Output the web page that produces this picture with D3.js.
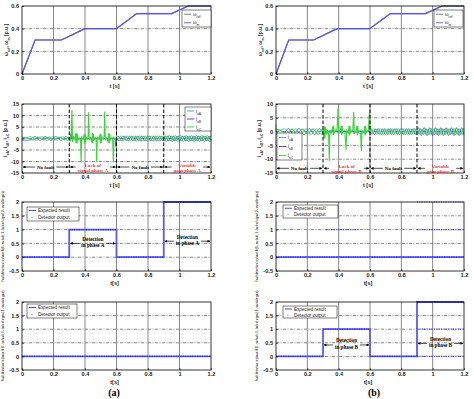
<!DOCTYPE html>
<html><head><meta charset="utf-8">
<script src="https://cdn.jsdelivr.net/npm/d3@7"></script>
<style>body{margin:0;background:#fff}svg{display:block}</style>
</head><body>
<script>
// ---------------- DATA ----------------
const xTicks = [0, 0.2, 0.4, 0.6, 0.8, 1, 1.2];
const xTickLabels = ["0", "0.2", "0.4", "0.6", "0.8", "1", "1.2"];
const speedTicks = [0, 0.2, 0.4, 0.6];
const currTicksA = [-15, -10, -5, 0, 5, 10, 15];
const currTicksB = [-15, -10, -5, 0, 5, 10];
const detTicks = [-0.5, 0, 0.5, 1, 1.5, 2];
const detTickLabels = ["-0.5", "0", "0.5", "1", "1.5", "2"];

// speed profiles (reference and measured overlap)
const speedT_a = [0, 0.083, 0.25, 0.4, 0.6, 0.728, 0.95, 1.055, 1.2];
const speedW_a = [0, 0.3, 0.3, 0.4, 0.4, 0.533, 0.533, 0.6, 0.6];
const speedT_b = [0, 0.081, 0.24, 0.39, 0.598, 0.73, 0.953, 1.06, 1.2];
const speedW_b = [0, 0.3, 0.3, 0.4, 0.4, 0.533, 0.533, 0.6, 0.6];

// phase current envelope per interval [t0, t1, amplitude]  (null = explicit samples)
const ampA_a = [[0, 0.3, 0.8], [0.3, 0.6, 0], [0.6, 0.9, 1.0], [0.9, 1.2, 1.35]];
const ampB_a = [[0, 0.3, 0.8], [0.3, 0.6, null], [0.6, 0.9, 1.0], [0.9, 1.2, 1.0]];
const ampC_a = [[0, 0.3, 0.6], [0.3, 0.6, null], [0.6, 0.9, 1.0], [0.9, 1.2, 1.0]];
const ampA_b = [[0, 0.3, 1.0], [0.3, 0.6, null], [0.6, 0.9, 1.0], [0.9, 1.2, 1.0]];
const ampB_b = [[0, 0.3, 1.1], [0.3, 0.6, 0], [0.6, 0.9, 1.0], [0.9, 1.2, 1.4]];
const ampC_b = [[0, 0.3, 0.9], [0.3, 0.6, null], [0.6, 0.9, 1.0], [0.9, 1.2, 1.0]];

// explicit samples during the fault intervals
const faultB_a = [[0.3, 0], [0.308, 0.3], [0.312, 2.2], [0.316, -0.4], [0.33, 0.2], [0.4, -0.2], [0.45, 0.3], [0.5, -0.2], [0.58, 0.2], [0.592, -0.5], [0.596, -3.5], [0.6, 0]];
const faultC_a = [[0.300, 0.5], [0.306, -1.2], [0.312, 1.5], [0.317, 12.4], [0.321, -1.5], [0.328, 0.8], [0.336, -0.5], [0.341, 2.2], [0.344, -2.0], [0.347, 2.4], [0.350, -2.2], [0.353, 1.8], [0.357, -0.6], [0.366, 0.2], [0.372, -0.8], [0.375, -10.5], [0.379, 0.6], [0.388, -0.4], [0.395, 1.8], [0.398, -2.2], [0.401, 2.2], [0.404, -1.8], [0.408, 0.4], [0.416, -0.2], [0.420, 1.2], [0.423, 11.4], [0.427, -0.8], [0.436, 0.4], [0.444, -1.8], [0.447, 2.4], [0.450, -2.2], [0.453, 2.0], [0.457, -0.6], [0.466, 0.2], [0.471, -0.9], [0.474, -10.2], [0.478, 0.6], [0.488, -0.4], [0.495, 1.8], [0.498, -2.2], [0.501, 2.2], [0.504, -1.8], [0.508, 0.4], [0.517, -0.2], [0.522, 1.2], [0.525, 11.7], [0.529, -0.8], [0.538, 0.4], [0.548, -1.8], [0.551, 2.4], [0.554, -2.2], [0.557, 2.0], [0.561, -0.6], [0.570, 0.2], [0.576, -0.9], [0.580, -10.5], [0.584, 0.6], [0.592, -0.3], [0.600, 0.3]];
const faultA_b = [[0.3, 0.4], [0.31, -0.6], [0.32, 0.8], [0.335, -1.2], [0.34, 0.3], [0.39, 0.6], [0.396, -0.8], [0.44, 0.5], [0.447, -0.6], [0.49, 0.5], [0.496, -0.7], [0.54, 0.5], [0.545, -0.6], [0.59, 0.4], [0.6, 0]];
const faultC_b = [[0.300, 0.3], [0.304, -2.4], [0.308, 2.0], [0.312, -2.6], [0.316, 1.6], [0.322, -1.0], [0.330, 0.5], [0.336, -1.2], [0.340, -10.6], [0.344, 0.5], [0.352, -0.6], [0.362, 1.8], [0.365, -1.2], [0.368, 2.2], [0.371, -0.6], [0.380, 0.3], [0.390, 0.8], [0.396, 8.4], [0.400, -0.4], [0.410, 0.6], [0.416, 2.0], [0.419, -1.4], [0.422, 2.0], [0.426, -0.4], [0.440, -0.6], [0.447, -6.7], [0.451, 0.5], [0.462, -0.4], [0.466, 2.0], [0.469, -1.4], [0.472, 2.0], [0.476, -0.4], [0.490, 0.6], [0.496, 7.2], [0.500, -0.4], [0.512, 0.4], [0.516, 2.0], [0.519, -1.4], [0.522, 2.0], [0.526, -0.4], [0.540, -0.6], [0.545, -7.0], [0.549, 0.5], [0.562, -0.4], [0.566, 2.0], [0.569, -1.4], [0.572, 2.0], [0.576, -0.4], [0.590, 0.6], [0.596, 6.9], [0.600, 0.0]];

// detection results: [t0, t1, value]
const expRow3_a = [[0, 0.3, 0], [0.3, 0.6, 1], [0.6, 0.9, 0], [0.9, 1.2, 2]];
const detRow3_a = [[0, 0.3, 0], [0.3, 0.6, 1], [0.6, 0.9, 0], [0.9, 1.2, 2]];
const expRow3_b = [[0, 1.2, 0]];
const detRow3_b = [[0, 1.2, 0], [0.32, 0.53, 1], [0.9, 1.2, 1], [0.9, 1.2, 2]];
const expRow4_a = [[0, 1.2, 0]];
const detRow4_a = [[0, 1.2, 0]];
const expRow4_b = [[0, 0.3, 0], [0.3, 0.6, 1], [0.6, 0.9, 0], [0.9, 1.2, 2]];
const detRow4_b = [[0, 0.3, 0], [0.3, 0.6, 1], [0.6, 0.9, 0], [0.9, 1.2, 2], [0.9, 1.2, 1], [0.9, 1.2, 0]];

const faultLines = [0.3, 0.6, 0.9];

// ---------------- DRAWING ----------------
const W = 474, H = 399;
const svg = d3.select("body").append("svg").attr("width", W).attr("height", H);
svg.append("rect").attr("width", W).attr("height", H).attr("fill", "#fff");

const defs = svg.append("defs");
function marker(id, color) {
  defs.append("marker").attr("id", id).attr("viewBox", "0 0 10 10").attr("refX", 9).attr("refY", 5)
    .attr("markerWidth", 4).attr("markerHeight", 4).attr("orient", "auto-start-reverse")
    .append("path").attr("d", "M0,0L10,5L0,10z").attr("fill", color);
}
marker("arrK", "#000");

const cols = [{x0: 22, x1: 211}, {x0: 276, x1: 464}];
const rows = [{y0: 6, y1: 74}, {y0: 104, y1: 173}, {y0: 202, y1: 271}, {y0: 302, y1: 370}];
const tickFont = "Liberation Sans, Arial, sans-serif";
const serif = "Liberation Serif, Times New Roman, serif";
const colA = "#3f9be0", colB = "#4a35d8", colC = "#3fd23f", lineBlue = "#5555ee";

function panel(ci, ri, yDom, yTicks, yLabels, xLab) {
  const c = cols[ci], r = rows[ri];
  const x = d3.scaleLinear([0, 1.2], [c.x0, c.x1]);
  const y = d3.scaleLinear(yDom, [r.y1, r.y0]);
  const g = svg.append("g");
  g.append("rect").attr("x", c.x0).attr("y", r.y0).attr("width", c.x1 - c.x0).attr("height", r.y1 - r.y0).attr("fill", "#fff");
  // grid
  g.append("g").selectAll("line").data(xTicks.slice(1, -1)).join("line")
    .attr("x1", d => x(d)).attr("x2", d => x(d)).attr("y1", r.y0).attr("y2", r.y1)
    .attr("stroke", "#6a6a6a").attr("stroke-width", 0.8);
  g.append("g").selectAll("line").data(yTicks.filter(v => v > yDom[0] && v < yDom[1])).join("line")
    .attr("x1", c.x0).attr("x2", c.x1).attr("y1", d => y(d)).attr("y2", d => y(d))
    .attr("stroke", "#6a6a6a").attr("stroke-width", 0.8).attr("stroke-dasharray", "3,1.5,1,1.5");
  const plot = g.append("g");
  // axes
  const ax = g.append("g").attr("transform", `translate(0,${r.y1})`)
    .call(d3.axisBottom(x).tickValues(xTicks).tickFormat((d, i) => xTickLabels[i]).tickSizeInner(-2).tickSizeOuter(0).tickPadding(2));
  const ay = g.append("g").attr("transform", `translate(${c.x0},0)`)
    .call(d3.axisLeft(y).tickValues(yTicks).tickFormat((d, i) => yLabels[i]).tickSizeInner(-2).tickSizeOuter(0).tickPadding(3));
  [ax, ay].forEach(a => {
    a.select(".domain").remove();
    a.selectAll("text").attr("font-family", tickFont).attr("font-size", 5.6).attr("font-weight", "bold").attr("fill", "#222");
    a.selectAll("line").attr("stroke", "#000").attr("stroke-width", 0.6);
  });
  g.append("text").attr("x", (c.x0 + c.x1) / 2 - 2).attr("y", r.y1 + 13.5).attr("text-anchor", "middle")
    .attr("font-family", tickFont).attr("font-size", 5.4).attr("font-weight", "bold").attr("fill", "#222").text(xLab);
  g.append("rect").attr("x", c.x0).attr("y", r.y0).attr("width", c.x1 - c.x0).attr("height", r.y1 - r.y0)
    .attr("fill", "none").attr("stroke", "#000").attr("stroke-width", 0.8);
  return {x, y, g, plot, c, r};
}

function yLabel(p, xPos, parts, size) {
  const t = svg.append("text").attr("transform", `translate(${xPos},${(p.r.y0 + p.r.y1) / 2}) rotate(-90)`)
    .attr("text-anchor", "middle").attr("font-family", tickFont).attr("font-size", size).attr("font-weight", "bold").attr("fill", "#333");
  parts.forEach(([s, sub]) => {
    const ts = t.append("tspan").text(s);
    if (sub) ts.attr("baseline-shift", "sub").attr("font-size", size * 0.7);
  });
}

function legend(p, bx, by, bw, bh, items, size) {
  const g = p.g.append("g");
  g.append("rect").attr("x", bx).attr("y", by).attr("width", bw).attr("height", bh).attr("fill", "#fff").attr("stroke", "#000").attr("stroke-width", 0.5);
  const step = bh / items.length;
  items.forEach((it, i) => {
    const yy = by + step * (i + 0.5);
    if (it.dot) {
      g.append("circle").attr("cx", bx + 5).attr("cy", yy).attr("r", 0.5).attr("fill", it.color);
    } else {
      g.append("line").attr("x1", bx + 2).attr("x2", bx + 9).attr("y1", yy).attr("y2", yy).attr("stroke", it.color).attr("stroke-width", 0.9);
    }
    const t = g.append("text").attr("x", bx + 11).attr("y", yy + size * 0.35).attr("font-family", tickFont).attr("font-size", size).attr("fill", "#222");
    it.parts.forEach(([s, sub]) => {
      const ts = t.append("tspan").text(s);
      if (sub) ts.attr("baseline-shift", "sub").attr("font-size", size * 0.75);
    });
  });
}

// ---- Row 1: speed ----
[[0, speedT_a, speedW_a], [1, speedT_b, speedW_b]].forEach(([ci, T, Wv]) => {
  const p = panel(ci, 0, [0, 0.6], speedTicks, ["0", "0.2", "0.4", "0.6"], "t [s]");
  const pts = T.map((t, i) => [t, Wv[i]]);
  const line = d3.line().x(d => p.x(d[0])).y(d => p.y(d[1]));
  p.plot.append("path").attr("d", line(pts)).attr("fill", "none").attr("stroke", "#777").attr("stroke-width", 1.2);
  p.plot.append("path").attr("d", line(pts)).attr("fill", "none").attr("stroke", lineBlue).attr("stroke-width", 1.1);
  const lx = ci === 0 ? 182 : 434;
  legend(p, lx, 10, 29, 17, [{color: "#777", parts: [["ω"], ["ref", 1]]}, {color: lineBlue, parts: [["ω"], ["m", 1]]}], 4.5);
  yLabel(p, ci === 0 ? 8 : 262, [["ω"], ["ref", 1], [", ω"], ["m", 1], ["  [p.u.]"]], 5);
});

// ---- Row 2: currents ----
function buildCurrent(T, Wv, amps, fault, shift, start) {
  const wOf = d3.scaleLinear(T, Wv);
  const dt = 0.0005;
  const out = [];
  if (start) out.push(start);
  let ph = 0;
  for (let t = 0; t <= 1.2 + 1e-9; t += dt) {
    const seg = amps.find(s => t >= s[0] && t < s[1] + 1e-9);
    if (seg[2] === null) {
      if (out.length && out[out.length - 1].fault !== true) {
        fault.forEach(d => { const q = [d[0], d[1]]; q.fault = true; out.push(q); });
      }
      ph += 2 * Math.PI * 50 * wOf(t) * dt;
      continue;
    }
    out.push([t, seg[2] * Math.sin(ph + shift)]);
    ph += 2 * Math.PI * 50 * wOf(t) * dt;
  }
  return out;
}

const annoA = [[0, 0.3, ["No fault"], "#000"], [0.3, 0.6, ["Lack of", "signal phase A"], "#e8343c"], [0.6, 0.9, ["No fault"], "#000"], [0.9, 1.2, ["Variable", "gain phase A"], "#e8343c"]];
const annoB = [[0, 0.3, ["No fault"], "#000"], [0.3, 0.6, ["Lack of", "signal phase B"], "#e8343c"], [0.6, 0.9, ["No fault"], "#000"], [0.9, 1.2, ["Variable", "gain phase B"], "#e8343c"]];

function annotate(p, t0, t1, yv, lines, color, size, lineOffset) {
  const g = p.g.append("g");
  const cx = (p.x(t0) + p.x(t1)) / 2, cy = p.y(yv);
  const texts = lines.map((s, i) => g.append("text").attr("x", cx).attr("y", cy + lineOffset[i]).attr("text-anchor", "middle")
    .attr("font-family", serif).attr("font-size", size).attr("font-weight", "bold").attr("fill", color).text(s));
  const tw = d3.max(texts.map(t => t.node().getComputedTextLength()));
  const half = Math.min(tw / 2 + 2, (p.x(t1) - p.x(t0)) / 2 - 4);
  g.append("line").attr("x1", cx - half).attr("x2", p.x(t0) + 1).attr("y1", cy).attr("y2", cy)
    .attr("stroke", "#000").attr("stroke-width", 0.7).attr("marker-end", "url(#arrK)");
  g.append("line").attr("x1", cx + half).attr("x2", p.x(t1) - 1).attr("y1", cy).attr("y2", cy)
    .attr("stroke", "#000").attr("stroke-width", 0.7).attr("marker-end", "url(#arrK)");
  texts.forEach(t => t.raise());
}

[[0, speedT_a, speedW_a, [ampA_a, ampB_a, ampC_a], [null, faultB_a, faultC_a], [-15, 15], currTicksA, annoA, -12.4],
 [1, speedT_b, speedW_b, [ampA_b, ampB_b, ampC_b], [faultA_b, null, faultC_b], [-15, 10], currTicksB, annoB, -13.3]]
.forEach(([ci, T, Wv, amps, faults, dom, ticks, anno, ay]) => {
  const p = panel(ci, 1, dom, ticks, ticks.map(String), "t [s]");
  const line = d3.line().x(d => p.x(d[0])).y(d => p.y(d[1]));
  const shifts = [0, -2 * Math.PI / 3, 2 * Math.PI / 3];
  const colors = [colA, colB, colC];
  [0, 1, 2].forEach(k => {
    const start = (ci === 1 && k === 0) ? [0, 2.6] : null;
    const data = buildCurrent(T, Wv, amps[k], faults[k] || [], shifts[k], start);
    p.plot.append("path").attr("d", line(data)).attr("fill", "none").attr("stroke", colors[k]).attr("stroke-width", k === 2 ? 1.1 : 0.8);
  });
  p.plot.selectAll(".fl").data(faultLines).join("line")
    .attr("x1", d => p.x(d)).attr("x2", d => p.x(d)).attr("y1", p.r.y0).attr("y2", p.r.y1)
    .attr("stroke", "#000").attr("stroke-width", 1).attr("stroke-dasharray", "3.5,2");
  anno.forEach(([t0, t1, lines, color]) => annotate(p, t0, t1, ay, lines, color, 5, lines.length === 1 ? [1.7] : [0, 5]));
  const items = [{color: colA, parts: [["i"], ["sA", 1]]}, {color: colB, parts: [["i"], ["sB", 1]]}, {color: colC, parts: [["i"], ["sC", 1]]}];
  if (ci === 0) legend(p, 185, 107, 26, 24, items, 4.5);
  else legend(p, 277, 133, 25, 27, items, 4.5);
  yLabel(p, ci === 0 ? 7 : 261, [["i"], ["sA", 1], [", i"], ["sB", 1], [", i"], ["sC", 1], ["  [p.u.]"]], 5);
});

// ---- Rows 3-4: detection ----
function stepPoints(segs) {
  const pts = segs.map(s => [s[0], s[2]]);
  pts.push([segs[segs.length - 1][1], segs[segs.length - 1][2]]);
  return pts;
}
const detLabelA = "Fault detection in phase A (0 - no fault, 1 - lack of signal, 2 - variable gain)";
const detLabelB = "Fault detection in phase B (0 - no fault, 1 - lack of signal, 2 - variable gain)";

const detPanels = [
  [0, 2, expRow3_a, detRow3_a, [27, 207, 52, 14], detLabelA, [[0.3, 0.6, 0.5, "Detection", "in phase A"], [0.9, 1.2, 0.58, "Detection", "in phase A"]]],
  [1, 2, expRow3_b, detRow3_b, [283, 205, 55, 13], detLabelA, []],
  [0, 3, expRow4_a, detRow4_a, [27, 304, 50, 14], detLabelB, []],
  [1, 3, expRow4_b, detRow4_b, [283, 306, 54, 12], detLabelB, [[0.3, 0.6, 0.42, "Detection", "in phase B"], [0.9, 1.2, 0.48, "Detection", "in phase B"]]]
];
detPanels.forEach(([ci, ri, exp, det, lg, lab, anns]) => {
  const p = panel(ci, ri, [-0.5, 2], detTicks, detTickLabels, "t[s]");
  const line = d3.line().x(d => p.x(d[0])).y(d => p.y(d[1])).curve(d3.curveStepAfter);
  p.plot.append("path").attr("d", line(stepPoints(exp))).attr("fill", "none").attr("stroke", "#5b5bf2").attr("stroke-width", 1.8);
  const ln = d3.line().x(d => p.x(d[0])).y(d => p.y(d[1]));
  det.forEach(s => {
    p.plot.append("path").attr("d", ln([[s[0], s[2]], [s[1], s[2]]])).attr("fill", "none")
      .attr("stroke", "#2a2aff").attr("stroke-width", 1.2).attr("stroke-dasharray", "1,1.4");
  });
  anns.forEach(([t0, t1, yv, l1, l2]) => annotate(p, t0, t1, yv, [l1, l2], "#000", 5.2, [-2.5, 3.8]));
  legend(p, lg[0], lg[1], lg[2], lg[3], [{color: "#3a3ad0", parts: [["Expected result"]]}, {color: "#2f2fff", dot: true, parts: [["Detector output"]]}], 4.6);
  yLabel(p, ci === 0 ? 4 : 258, [[lab]], 2.6);
});

// panel labels
svg.append("text").attr("x", 114).attr("y", 396).attr("text-anchor", "middle").attr("font-family", serif)
  .attr("font-size", 10).attr("font-weight", "bold").text("(a)");
svg.append("text").attr("x", 374).attr("y", 396).attr("text-anchor", "middle").attr("font-family", serif)
  .attr("font-size", 10).attr("font-weight", "bold").text("(b)");
</script>
</body></html>
